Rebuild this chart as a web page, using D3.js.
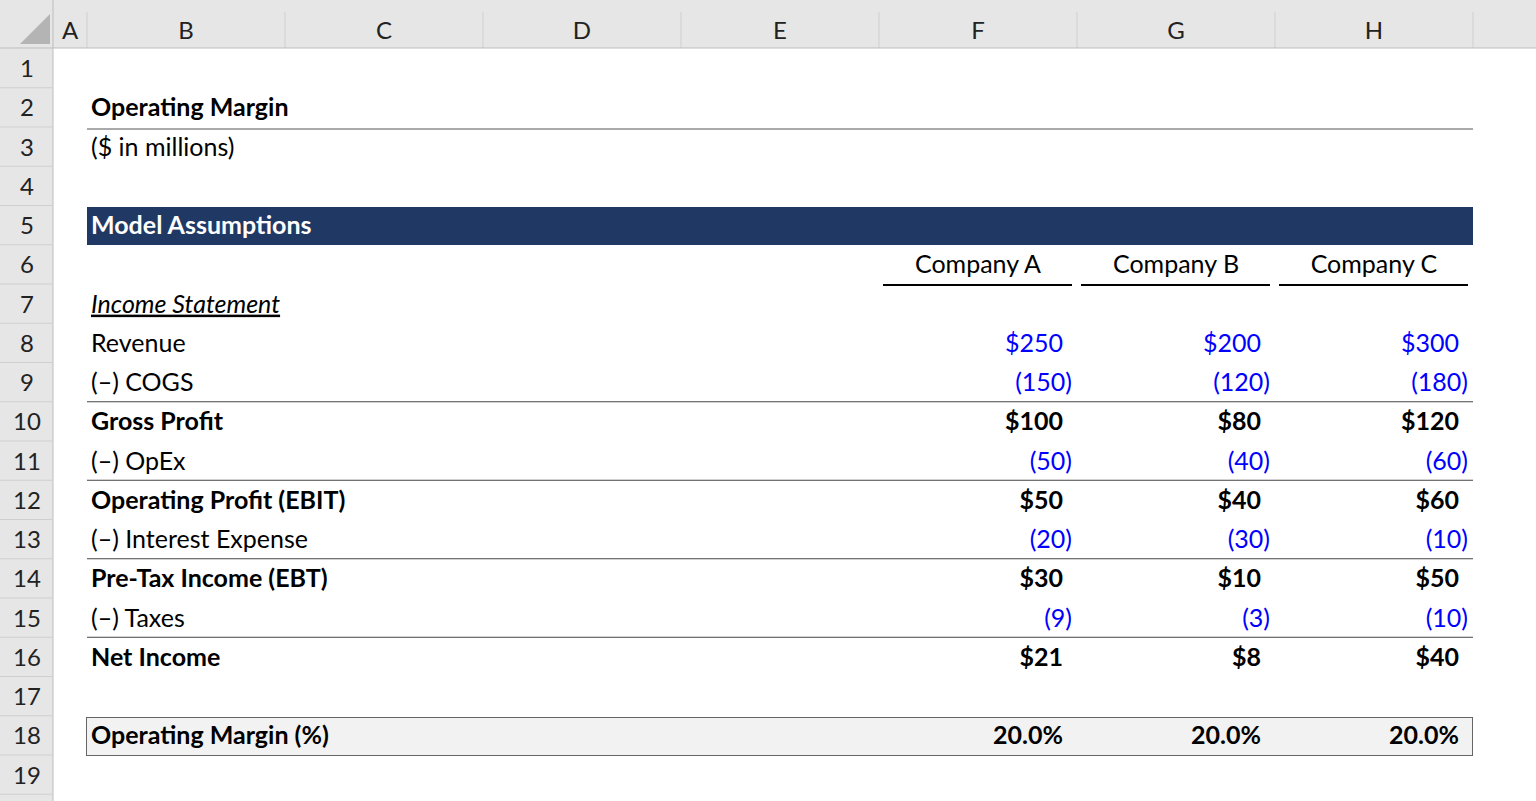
<!DOCTYPE html>
<html><head><meta charset="utf-8">
<script src="https://cdn.jsdelivr.net/npm/d3@7"></script>
<style>body{margin:0;background:#fff}svg{display:block}text{font-family:Lato,"Open Sans",sans-serif}</style>
</head><body><svg id="c" width="1536" height="801"></svg>
<script>
const colLetters = ["A","B","C","D","E","F","G","H"];
const colEdges = [53,87,285,483,681,879,1077,1275,1473];
const companies = ["Company A","Company B","Company C"];
const revenue = [250,200,300];
const cogs = [-150,-120,-180];
const grossProfit = [100,80,120];
const opex = [-50,-40,-60];
const ebit = [50,40,60];
const interest = [-20,-30,-10];
const ebt = [30,10,50];
const taxes = [-9,-3,-10];
const netIncome = [21,8,40];
const opMargin = [0.2,0.2,0.2];
const rows = [
 {r:8,label:"Revenue",vals:revenue,kind:"input"},
 {r:9,label:"(–) COGS",vals:cogs,kind:"input",lineBelow:true},
 {r:10,label:"Gross Profit",vals:grossProfit,kind:"bold"},
 {r:11,label:"(–) OpEx",vals:opex,kind:"input",lineBelow:true},
 {r:12,label:"Operating Profit (EBIT)",vals:ebit,kind:"bold"},
 {r:13,label:"(–) Interest Expense",vals:interest,kind:"input",lineBelow:true},
 {r:14,label:"Pre-Tax Income (EBT)",vals:ebt,kind:"bold"},
 {r:15,label:"(–) Taxes",vals:taxes,kind:"input",lineBelow:true},
 {r:16,label:"Net Income",vals:netIncome,kind:"bold"}
];
const svg = d3.select("#c");
const top0 = 48.5, rh = 39.25;
const y = d3.scaleLinear().domain([1,20]).range([top0, top0+19*rh]); // row top
const fs = 25;
// header backgrounds
svg.append("rect").attr("x",0).attr("y",0).attr("width",1536).attr("height",48).attr("fill","#e6e6e6");
svg.append("rect").attr("x",0).attr("y",0).attr("width",53).attr("height",801).attr("fill","#e6e6e6");
svg.append("path").attr("d","M20,44 L50,14 L50,44 Z").attr("fill","#b4b4b4");
colEdges.forEach((e,i)=>{ if(i>0) svg.append("line").attr("x1",e).attr("x2",e).attr("y1",12).attr("y2",48).attr("stroke","#cfcfcf");});
svg.append("line").attr("x1",0).attr("x2",1536).attr("y1",48).attr("y2",48).attr("stroke","#bdbdbd");
svg.append("line").attr("x1",53).attr("x2",53).attr("y1",0).attr("y2",801).attr("stroke","#bdbdbd");
colLetters.forEach((c,i)=>svg.append("text").attr("x",(colEdges[i]+colEdges[i+1])/2).attr("y",39).attr("text-anchor","middle").attr("font-size",24).attr("fill","#222").text(c));
for(let r=1;r<=19;r++){
  svg.append("text").attr("x",27).attr("y",y(r)+rh/2+9).attr("text-anchor","middle").attr("font-size",24).attr("fill","#222").text(r);
  svg.append("line").attr("x1",0).attr("x2",53).attr("y1",y(r+1)).attr("y2",y(r+1)).attr("stroke","#cfcfcf");
}
const base = r=>y(r)+rh/2+9;
const L = 91;
svg.append("text").attr("x",L).attr("y",base(2)).attr("font-size",fs).attr("font-weight","bold").text("Operating Margin");
svg.append("line").attr("x1",87).attr("x2",1473).attr("y1",129).attr("y2",129).attr("stroke","#555");
svg.append("text").attr("x",L).attr("y",base(3)).attr("font-size",fs).text("($ in millions)");
svg.append("rect").attr("x",87).attr("y",207).attr("width",1386).attr("height",38).attr("fill","#203864");
svg.append("text").attr("x",L).attr("y",base(5)).attr("font-size",fs).attr("font-weight","bold").attr("fill","#fff").text("Model Assumptions");
companies.forEach((c,i)=>{
  const a=colEdges[i+5],b=colEdges[i+6];
  svg.append("text").attr("x",(a+b)/2).attr("y",base(6)).attr("text-anchor","middle").attr("font-size",fs).text(c);
  svg.append("line").attr("x1",a+4).attr("x2",b-5).attr("y1",285).attr("y2",285).attr("stroke","#000").attr("stroke-width",2);
});
const it = svg.append("text").attr("x",L).attr("y",base(7)).attr("font-size",fs).attr("font-style","italic").attr("text-decoration","underline").text("Income Statement");
const fmt = (v,i,first)=> v<0 ? "("+(-v)+")" : (first||true ? "$"+v : ""+v);
rows.forEach(row=>{
  svg.append("text").attr("x",L).attr("y",base(row.r)).attr("font-size",fs).attr("font-weight",row.kind==="bold"?"bold":"normal").text(row.label);
  row.vals.forEach((v,i)=>{
    const right = colEdges[i+6] - (v<0?5:14);
    svg.append("text").attr("x",right).attr("y",base(row.r)).attr("text-anchor","end").attr("font-size",fs)
      .attr("font-weight",row.kind==="bold"?"bold":"normal").attr("fill",row.kind==="input"?"#0000ff":"#000").text(fmt(v));
  });
  if(row.lineBelow) svg.append("line").attr("x1",87).attr("x2",1473).attr("y1",y(row.r+1)).attr("y2",y(row.r+1)).attr("stroke","#444");
});
svg.append("rect").attr("x",86.5).attr("y",717.5).attr("width",1386).attr("height",38).attr("fill","#f2f2f2").attr("stroke","#666");
svg.append("text").attr("x",L).attr("y",base(18)).attr("font-size",fs).attr("font-weight","bold").text("Operating Margin (%)");
opMargin.forEach((v,i)=>svg.append("text").attr("x",colEdges[i+6]-14).attr("y",base(18)).attr("text-anchor","end").attr("font-size",fs).attr("font-weight","bold").text(d3.format(".1%")(v)));
</script></body></html>
